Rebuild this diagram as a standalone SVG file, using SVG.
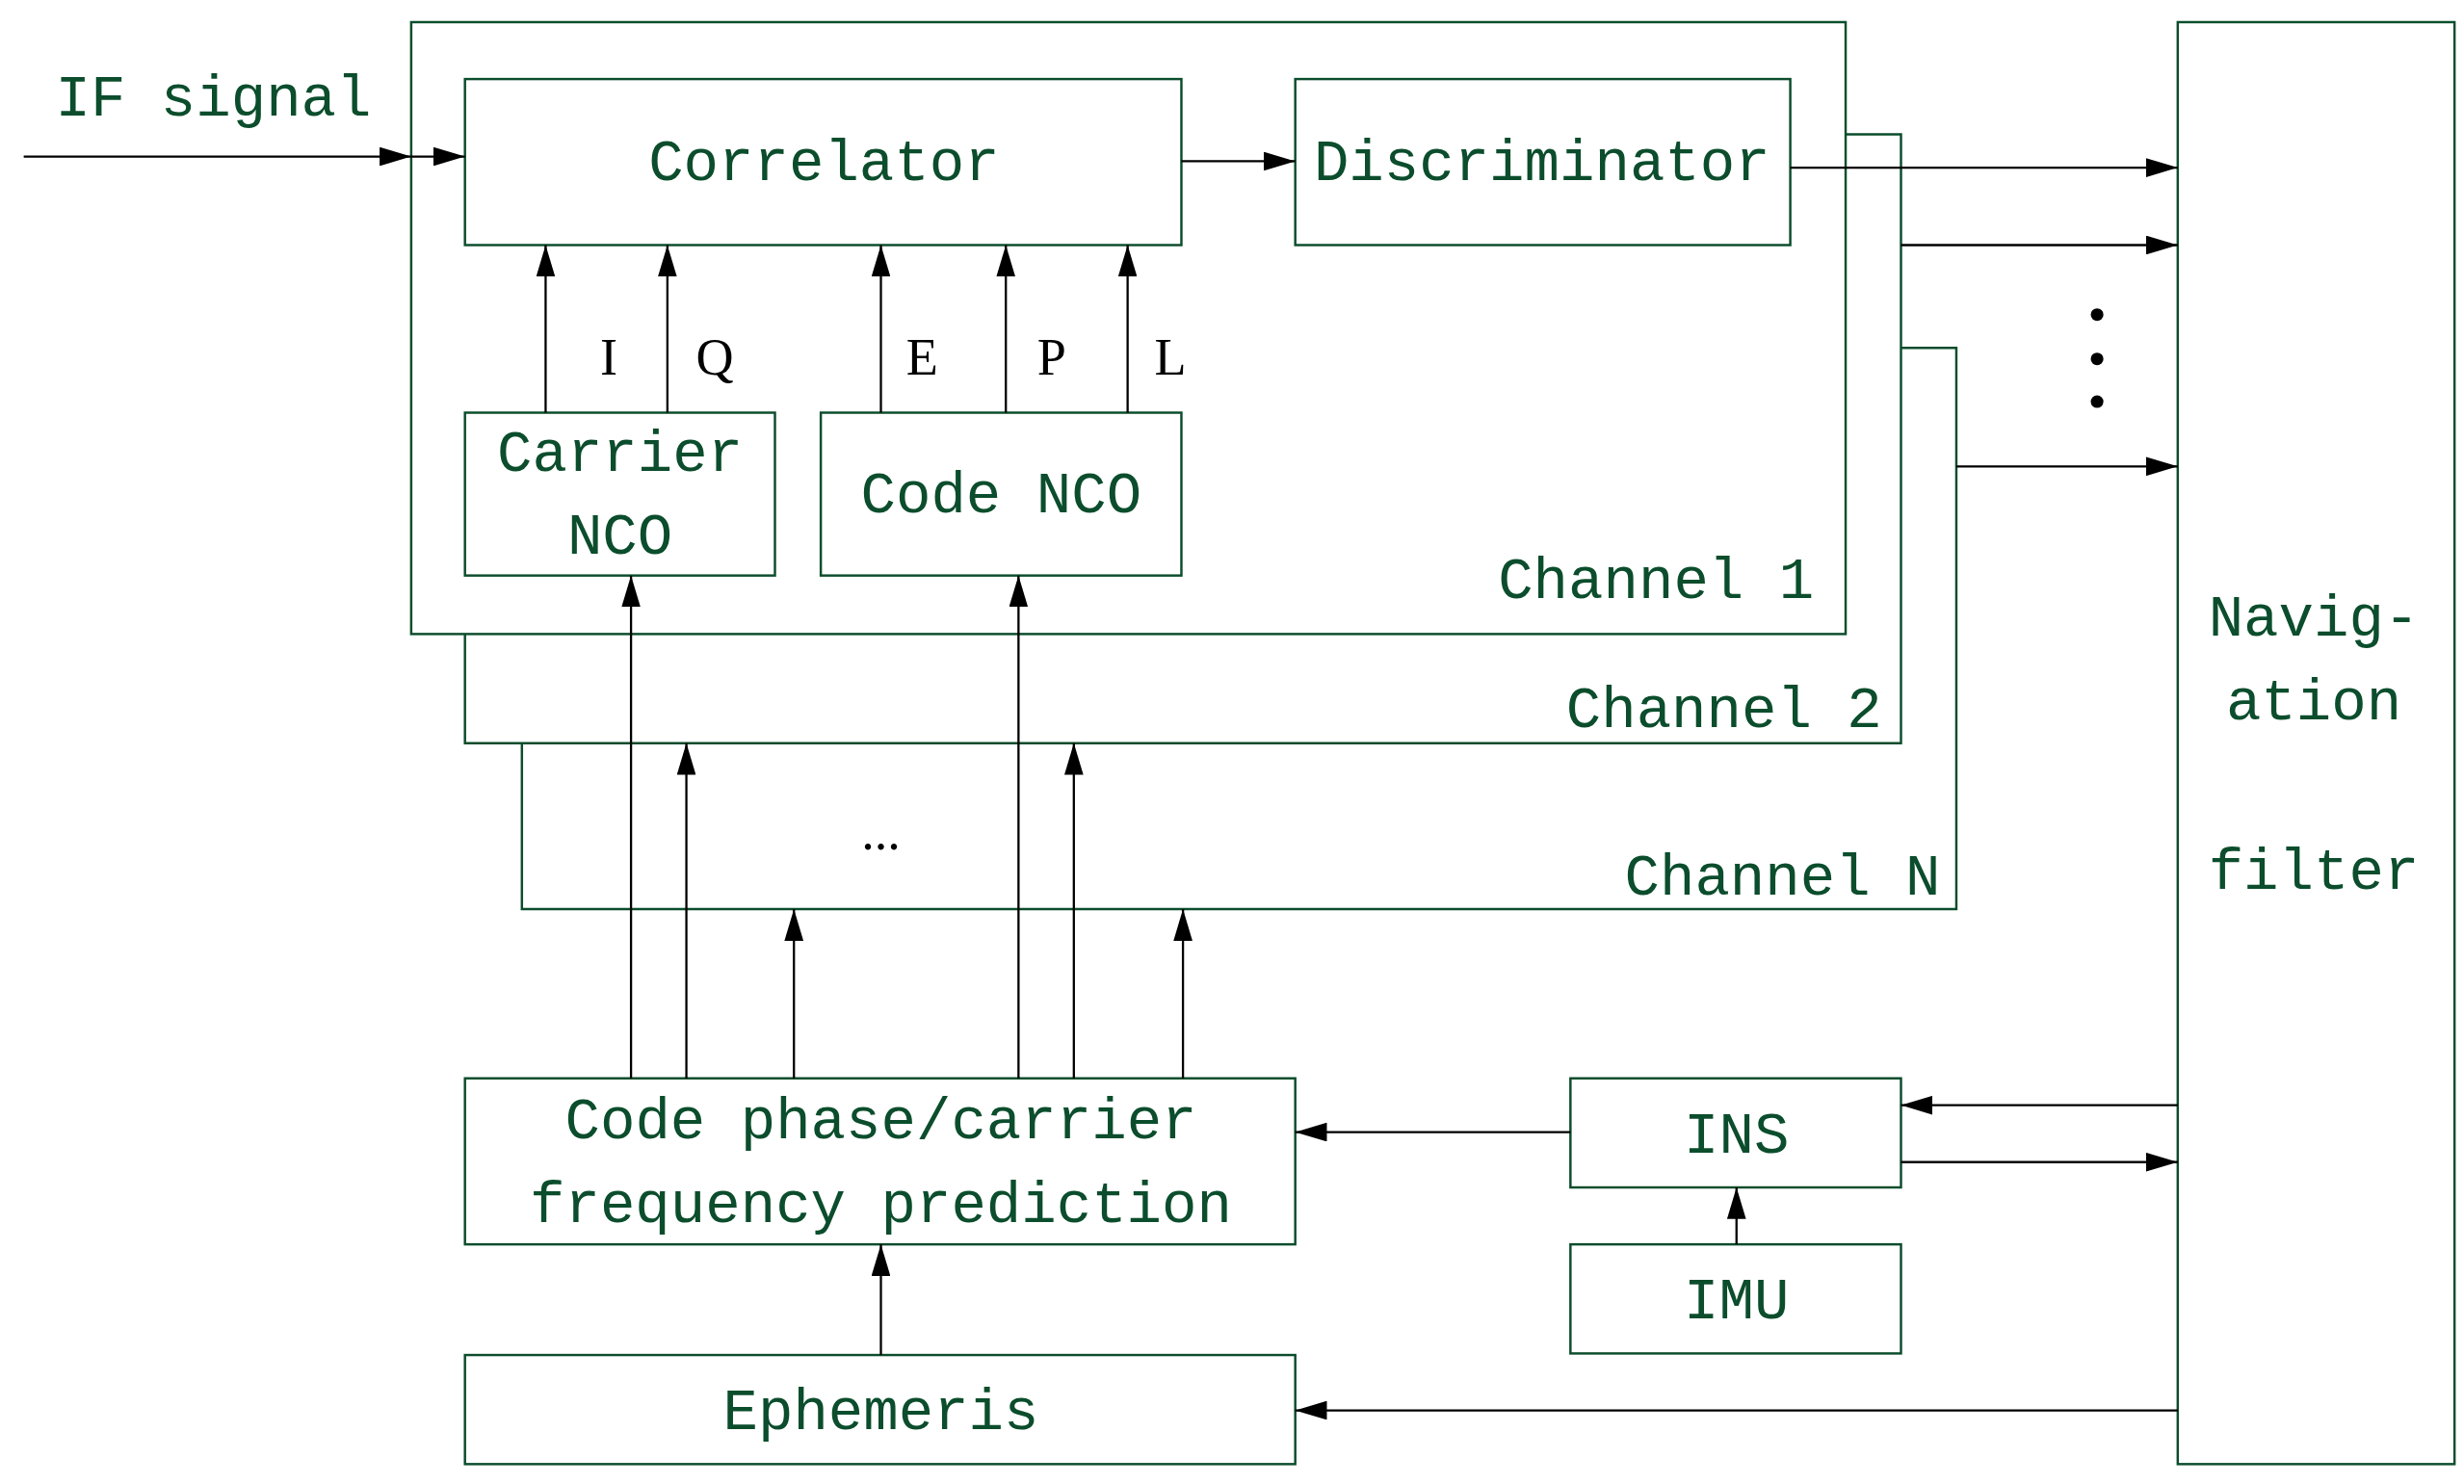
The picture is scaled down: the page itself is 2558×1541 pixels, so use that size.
<svg xmlns="http://www.w3.org/2000/svg" width="2558" height="1541" viewBox="0 0 2558 1541">
<style>
.box{fill:none;stroke:#0b4d2c;stroke-width:1.5}
.ln{fill:none;stroke:#000;stroke-width:1.4}
.g{fill:#0b4d2c;font-family:"Liberation Mono",monospace;font-size:37px}
.k{fill:#000;font-family:"Liberation Serif",serif;font-size:33px}
</style>
<defs>
<marker id="a" markerUnits="userSpaceOnUse" markerWidth="20" markerHeight="12" refX="20" refY="6" orient="auto"><path d="M0,0L20,6L0,12z" fill="#000"/></marker>
</defs>
<rect width="2558" height="1541" fill="#fff"/>
<g transform="scale(1.64185)">
<g id="channelN"><path class="box" d="M330,470V575H1237V220H1202"/><text class="g" x="1227" y="566" text-anchor="end">Channel N</text><text class="k" x="557" y="537" text-anchor="middle">...</text></g>
<g id="channel2"><path class="box" d="M294,401V470H1202V85H1167"/><text class="g" x="1190" y="460" text-anchor="end">Channel 2</text></g>
<g id="channel1"><rect class="box" x="260" y="14" width="907" height="387"/><text class="g" x="1147" y="378" text-anchor="end">Channel 1</text></g>
<g id="if"><text class="g" x="35" y="73">IF signal</text></g>
<g id="correlator"><rect class="box" x="294" y="50" width="453" height="105"/><text class="g" x="521" y="114" text-anchor="middle">Correlator</text></g>
<g id="discriminator"><rect class="box" x="819" y="50" width="313" height="105"/><text class="g" x="975" y="114" text-anchor="middle">Discriminator</text></g>
<g id="carrierNCO"><rect class="box" x="294" y="261" width="196" height="103"/><text class="g" x="392" y="298" text-anchor="middle">Carrier</text><text class="g" x="392" y="350" text-anchor="middle">NCO</text></g>
<g id="codeNCO"><rect class="box" x="519" y="261" width="228" height="103"/><text class="g" x="633" y="324" text-anchor="middle">Code NCO</text></g>
<g id="nav"><rect class="box" x="1377" y="14" width="175" height="912"/><text class="g" x="1463" y="402" text-anchor="middle">Navig-</text><text class="g" x="1463" y="455" text-anchor="middle">ation</text><text class="g" x="1463" y="562" text-anchor="middle">filter</text></g>
<g id="prediction"><rect class="box" x="294" y="682" width="525" height="105"/><text class="g" x="557" y="720" text-anchor="middle">Code phase/carrier</text><text class="g" x="557" y="773" text-anchor="middle">frequency prediction</text></g>
<g id="ins"><rect class="box" x="993" y="682" width="209" height="69"/><text class="g" x="1098" y="729" text-anchor="middle">INS</text></g>
<g id="imu"><rect class="box" x="993" y="787" width="209" height="69"/><text class="g" x="1098" y="834" text-anchor="middle">IMU</text></g>
<g id="ephemeris"><rect class="box" x="294" y="857" width="525" height="69"/><text class="g" x="557" y="904" text-anchor="middle">Ephemeris</text></g>
<g id="labels"><text class="k" x="385" y="237" text-anchor="middle">I</text><text class="k" x="452" y="237" text-anchor="middle">Q</text><text class="k" x="583" y="237" text-anchor="middle">E</text><text class="k" x="665" y="237" text-anchor="middle">P</text><text class="k" x="740" y="237" text-anchor="middle">L</text>
<circle cx="1326" cy="199" r="4"/><circle cx="1326" cy="227" r="4"/><circle cx="1326" cy="254" r="4"/></g>
<g id="connectors" class="ln">
<path class="ln" d="M15,99H260" marker-end="url(#a)"/>
<path class="ln" d="M260,99H294" marker-end="url(#a)"/>
<path class="ln" d="M747,102H819" marker-end="url(#a)"/>
<path class="ln" d="M345,261V155" marker-end="url(#a)"/>
<path class="ln" d="M422,261V155" marker-end="url(#a)"/>
<path class="ln" d="M557,261V155" marker-end="url(#a)"/>
<path class="ln" d="M636,261V155" marker-end="url(#a)"/>
<path class="ln" d="M713,261V155" marker-end="url(#a)"/>
<path class="ln" d="M1132,106H1377" marker-end="url(#a)"/>
<path class="ln" d="M1202,155H1377" marker-end="url(#a)"/>
<path class="ln" d="M1237,295H1377" marker-end="url(#a)"/>
<path class="ln" d="M399,682V364" marker-end="url(#a)"/>
<path class="ln" d="M434,682V470" marker-end="url(#a)"/>
<path class="ln" d="M502,682V575" marker-end="url(#a)"/>
<path class="ln" d="M644,682V364" marker-end="url(#a)"/>
<path class="ln" d="M679,682V470" marker-end="url(#a)"/>
<path class="ln" d="M748,682V575" marker-end="url(#a)"/>
<path class="ln" d="M993,716H819" marker-end="url(#a)"/>
<path class="ln" d="M1377,699H1202" marker-end="url(#a)"/>
<path class="ln" d="M1202,735H1377" marker-end="url(#a)"/>
<path class="ln" d="M1098,787V751" marker-end="url(#a)"/>
<path class="ln" d="M557,857V787" marker-end="url(#a)"/>
<path class="ln" d="M1377,892H819" marker-end="url(#a)"/>
</g>
</g>
</svg>
